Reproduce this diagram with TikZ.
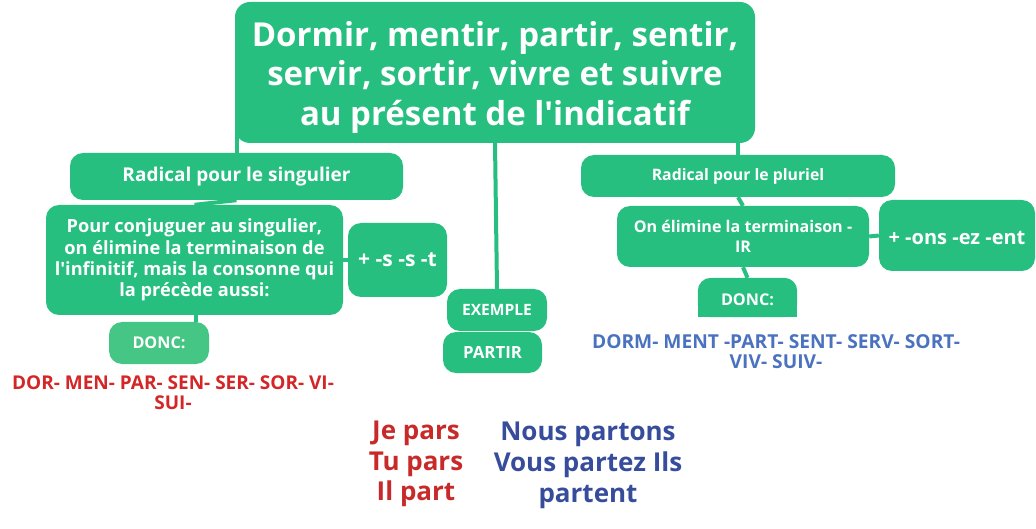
\documentclass[tikz,border=0pt]{standalone}
\usepackage{fontspec}
\setmainfont{Open Sans}
\usetikzlibrary{backgrounds}
\definecolor{gr}{RGB}{38,191,128}
\definecolor{grl}{RGB}{70,198,133}
\definecolor{redt}{RGB}{212,38,38}
\definecolor{redc}{RGB}{200,42,42}
\definecolor{bluet}{RGB}{74,114,190}
\definecolor{blued}{RGB}{55,77,155}
\begin{document}
\begin{tikzpicture}[x=1pt,y=-1pt,
  box/.style={fill=gr, rounded corners=13pt, inner sep=0pt, text=white, align=center},
  conn/.style={draw=gr, line width=4pt}]
\useasboundingbox (0,0) rectangle (1036,529);
% nodes
\node[box, rounded corners=15pt, minimum width=520pt, minimum height=141pt] (main) at (495,72.5) {};
\node[text=white, align=center, font=\fontsize{33}{39.5}\selectfont\bfseries] (title) at (495,77)
  {Dormir, mentir, partir, sentir,\\servir, sortir, vivre et suivre\\au présent de l\textquotesingle indicatif};
\node[box, minimum width=333pt, minimum height=47pt, font=\fontsize{19}{21}\selectfont\bfseries] (sing) at (236.5,176.5) {Radical pour le singulier};
\node[box, minimum width=297pt, minimum height=110pt, font=\fontsize{18.2}{21.3}\selectfont\bfseries] (conj) at (194.5,260)
  {Pour conjuguer au singulier,\\on élimine la terminaison de\\l\textquotesingle infinitif, mais la consonne qui\\la précède aussi:};
\node[box, minimum width=99pt, minimum height=74pt, font=\fontsize{21}{23}\selectfont\bfseries] (plusA) at (397.5,260) {+ -s -s -t};
\node[box, fill=grl, minimum width=100pt, minimum height=42pt, font=\fontsize{16.2}{18}\selectfont\bfseries] (doncA) at (159,343) {DONC:};
\node[text=redt, align=center, font=\fontsize{19}{20}\selectfont\bfseries] (radA) at (173,393) {DOR- MEN- PAR- SEN- SER- SOR- VI-\\SUI-};
\node[box, minimum width=314pt, minimum height=42pt, font=\fontsize{15.8}{18}\selectfont\bfseries] (plur) at (738,176) {Radical pour le pluriel};
\node[box, minimum width=252pt, minimum height=61pt, font=\fontsize{16.1}{20}\selectfont\bfseries] (elim) at (743,236.5) {On élimine la terminaison -\\IR};
\node[box, minimum width=156pt, minimum height=71pt, font=\fontsize{20}{23}\selectfont\bfseries] (plusB) at (957,235.5) {};
\node[text=white, font=\fontsize{20}{23}\selectfont\bfseries] (plusBt) at (957,237.5) {+ -ons -ez -ent};
\node[minimum width=99pt, minimum height=39pt, inner sep=0pt] (doncB) at (747.5,297.5) {};
\fill[gr, rounded corners=13pt] (doncB.north west) rectangle (doncB.south east);
\fill[gr] ([yshift=16pt]doncB.south west) rectangle (doncB.south east);
\node[text=white, font=\fontsize{16.2}{18}\selectfont\bfseries] (doncBt) at ([yshift=-2pt]doncB.center) {DONC:};
\node[text=bluet, align=center, font=\fontsize{19.2}{20}\selectfont\bfseries] (radB) at (776,352) {DORM- MENT -PART- SENT- SERV- SORT-\\VIV- SUIV-};
\node[box, minimum width=100pt, minimum height=42pt, font=\fontsize{15.6}{18}\selectfont\bfseries] (ex) at (497,310) {EXEMPLE};
\node[box, minimum width=99pt, minimum height=41pt, font=\fontsize{16.8}{18}\selectfont\bfseries] (partir) at (492.5,352.5) {PARTIR};
\node[text=redc, align=center, font=\fontsize{26}{30.5}\selectfont\bfseries] (sgc) at (416,464) {Je pars\\Tu pars\\Il part};
\node[text=blued, align=center, font=\fontsize{26}{31}\selectfont\bfseries] (plc) at (588,465.5) {Nous partons\\Vous partez Ils\\partent};
% connectors
\begin{pgfonlayer}{background}
\draw[conn] (main.west) -| (sing.north);
\draw[conn] (main.east) -| (plur.north);
\draw[conn] (main.south) -- (ex.north);
\draw[conn] (sing.south) -- (conj.north);
\draw[conn] (conj.east) -- (plusA.west);
\draw[conn] ([xshift=1.5pt]conj.south) -- ([xshift=1.5pt]conj.south |- doncA.north);
\draw[conn] (plur.south) -- (elim.north);
\draw[conn] (elim.east) -- (plusB.west);
\draw[conn] (elim.south) -- (doncB.north);
\end{pgfonlayer}
\end{tikzpicture}
\end{document}
